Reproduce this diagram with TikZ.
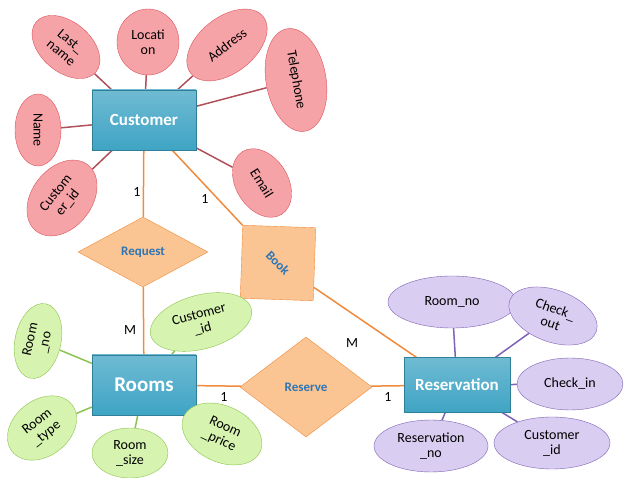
\documentclass[tikz,border=0pt]{standalone}
\usepackage{fontspec}
\setmainfont{Carlito}
\usetikzlibrary{shapes.geometric,backgrounds}
\definecolor{boxblue}{HTML}{3FA4C4}
\definecolor{boxedge}{HTML}{2F7F99}
\definecolor{txtblue}{HTML}{2E75B6}
\definecolor{orfill}{HTML}{FBC593}
\definecolor{oredge}{HTML}{F08A3C}
\definecolor{redfill}{HTML}{F6A3A8}
\definecolor{rededge}{HTML}{D9535B}
\definecolor{grfill}{HTML}{D6F3B0}
\definecolor{gredge}{HTML}{8CC34E}
\definecolor{pufill}{HTML}{D9CDF1}
\definecolor{puedge}{HTML}{7E62B5}
\definecolor{redline}{HTML}{B0505A}
\begin{document}
\begin{tikzpicture}[x=1pt,y=-1pt,
  ent/.style={rectangle,draw=boxedge,top color=boxblue!75,bottom color=boxblue,
    text=white,font=\fontsize{17}{19}\selectfont\bfseries,inner sep=0pt},
  rel/.style={diamond,draw=oredge,fill=orfill,text=txtblue,
    font=\fontsize{13}{15}\selectfont\bfseries,inner sep=0pt,aspect=1.8},
  att/.style={ellipse,inner sep=0pt,align=center,font=\fontsize{14}{15}\selectfont},
  ratt/.style={att,draw=rededge,fill=redfill},
  gatt/.style={att,draw=gredge,fill=grfill},
  patt/.style={att,draw=puedge,fill=pufill},
  card/.style={font=\fontsize{14}{16}\selectfont},
  rl/.style={redline,line width=1.5pt},
  ol/.style={oredge,line width=1.5pt},
  gl/.style={gredge,line width=1.5pt},
  pl/.style={puedge,line width=1.5pt}]
\useasboundingbox (0,0) rectangle (638,478);
% entities
\node[ent,minimum width=104,minimum height=60] (cust) at (144,120) {Customer};
\node[ent,minimum width=104,minimum height=60,font=\fontsize{21}{23}\selectfont\bfseries] (rooms) at (144,385) {Rooms};
\node[ent,minimum width=106,minimum height=55] (resv) at (457,385) {Reservation};
% relationships
\node[rel,minimum width=130,minimum height=70] (req) at (143,252) {Request};
\node[rel,minimum width=132,minimum height=100,aspect=1.3] (rsv) at (306,387) {Reserve};
\node[rectangle,draw=oredge,fill=orfill,minimum size=73,rotate=-2] (book) at (278,263) {};
\node[text=txtblue,font=\fontsize{13}{15}\selectfont\bfseries,rotate=-45] (booktxt) at (278,263) {Book};
% customer attributes
\node[ratt,minimum width=78,minimum height=50,rotate=-40] (lname) at (66,47) {Last\_\\name};
\node[ratt,minimum width=62,minimum height=66] (loc) at (148,42) {Locati\\on};
\node[ratt,minimum width=92,minimum height=56,rotate=38] (addr) at (227,45) {Address};
\node[ratt,minimum width=104,minimum height=60,rotate=-80] (tel) at (296,80) {Telephone};
\node[ratt,minimum width=72,minimum height=46,rotate=-90] (name) at (38,130) {Name};
\node[ratt,minimum width=74,minimum height=52,rotate=-58] (email) at (262,183) {Email};
\node[ratt,minimum width=84,minimum height=60,rotate=52] (cid) at (62,198) {Custom\\er\_id};
% rooms attributes
\node[gatt,minimum width=76,minimum height=46,rotate=78] (rno) at (38,341) {Room\\\_no};
\node[gatt,minimum width=104,minimum height=54,rotate=15] (rcid) at (201,322) {Customer\\\_id};
\node[gatt,minimum width=76,minimum height=56,rotate=38] (rtype) at (42,428) {Room\\\_type};
\node[gatt,minimum width=76,minimum height=50] (rsize) at (130,453) {Room\\\_size};
\node[gatt,minimum width=84,minimum height=56,rotate=-25] (rprice) at (222,434) {Room\\\_price};
% reservation attributes
\node[patt,minimum width=128,minimum height=52] (prno) at (452,302) {Room\_no};
\node[patt,minimum width=92,minimum height=52,rotate=-20] (cout) at (553,316) {Check\_\\out};
\node[patt,minimum width=106,minimum height=52] (cin) at (570,384) {Check\_in};
\node[patt,minimum width=114,minimum height=52] (pres) at (431,446) {Reservation\\\_no};
\node[patt,minimum width=116,minimum height=52] (pcid) at (552,443) {Customer\\\_id};
% cardinalities
\node[card] (c1) at (137,192) {1};
\node[card] (c2) at (205,199) {1};
\node[card] (c3) at (130,330) {M};
\node[card] (c4) at (352,343) {M};
\node[card] (c5) at (224,397) {1};
\node[card] (c6) at (388,397) {1};
\begin{pgfonlayer}{background}
\draw[rl] (cust) -- (lname);
\draw[rl] (cust) -- (loc);
\draw[rl] (cust) -- (addr);
\draw[rl] (cust) -- (tel);
\draw[rl] (cust) -- (name);
\draw[rl] (cust) -- (email);
\draw[rl] (cust) -- (cid);
\draw[ol] (cust) -- (req);
\draw[ol] (req) -- (rooms);
\draw[ol] (cust) -- (book);
\draw[ol] (book) -- (resv);
\draw[ol] (rooms) -- (rsv);
\draw[ol] (rsv) -- (resv);
\draw[gl] (rooms) -- (rno);
\draw[gl] (rooms) -- (rcid);
\draw[gl] (rooms) -- (rtype);
\draw[gl] (rooms) -- (rsize);
\draw[gl] (rooms) -- (rprice);
\draw[pl] (resv) -- (prno);
\draw[pl] (resv) -- (cout);
\draw[pl] (resv) -- (cin);
\draw[pl] (resv) -- (pres);
\draw[pl] (resv) -- (pcid);
\end{pgfonlayer}
\end{tikzpicture}
\end{document}
